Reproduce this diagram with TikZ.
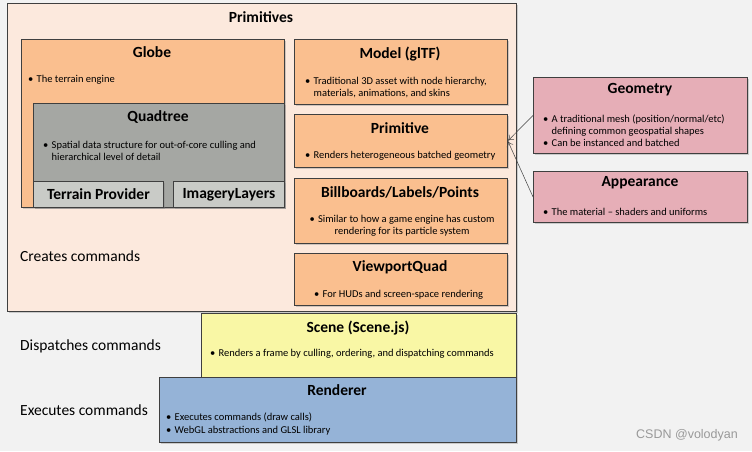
\documentclass[tikz,border=0pt]{standalone}
\usepackage{fontspec}
\setmainfont{Carlito}
\newfontfamily\markfont{Liberation Sans}
\usepackage{tikz}
\usetikzlibrary{shapes,arrows,arrows.meta,positioning,shadows}

\definecolor{bggray}{HTML}{F2F2F2}
\definecolor{primpeach}{HTML}{FCE9DD}
\definecolor{boxorange}{HTML}{FABF8F}
\definecolor{quadgray}{HTML}{A5A7A3}
\definecolor{tilegray}{HTML}{C9CBC7}
\definecolor{boxpink}{HTML}{E6AEB7}
\definecolor{sceneyellow}{HTML}{F9F7A5}
\definecolor{rendblue}{HTML}{95B3D7}
\definecolor{edgegray}{HTML}{3F3F3F}

\newcommand{\bul}{\makebox[8.5pt][l]{\textbullet}}

\tikzset{
  box/.style={draw=edgegray, line width=0.8pt, anchor=north west, inner sep=0pt,
    drop shadow={shadow xshift=1.2pt, shadow yshift=-1.5pt, opacity=0.35}},
  boxtitle/.style={font=\fontsize{15.5}{18}\selectfont\bfseries, inner sep=0pt},
  bullets/.style={font=\fontsize{10.5}{12.3}\selectfont, align=left, anchor=west, inner sep=0pt},
  stage/.style={font=\fontsize{15.5}{18}\selectfont, anchor=west, inner sep=0pt},
  feed/.style={-{To[length=5pt,width=7pt]}, edgegray, line width=0.5pt, shorten >=0.5pt}
}

\begin{document}
\begin{tikzpicture}[x=1pt, y=-1pt]
    % Background
    \fill[bggray] (0,0) rectangle (752,451);
    \useasboundingbox (0,0) rectangle (752,451);

    % Primitives container
    \node[box, fill=primpeach, minimum width=509pt, minimum height=308pt] (prims) at (7,3) {};
    \node[boxtitle] (primstitle) at (261,17) {Primitives};

    % Globe and its quadtree
    \node[box, fill=boxorange, minimum width=263pt, minimum height=168pt] (globe) at (21,39) {};
    \node[boxtitle] (globetitle) at (152,52) {Globe};
    \node[bullets] (globetext) at (28,80) {\bul The terrain engine};

    \node[box, fill=quadgray, minimum width=251pt, minimum height=104pt] (quadtree) at (33,103) {};
    \node[boxtitle] (quadtitle) at (158,117) {Quadtree};
    \node[bullets] (quadtext) at (43,151) {\bul Spatial data structure for out-of-core culling and\\
        \hspace*{8.5pt}hierarchical level of detail};

    \node[box, fill=tilegray, minimum width=130pt, minimum height=26pt] (terrain) at (33,181) {};
    \node[boxtitle] at (terrain.center) {Terrain Provider};
    \node[box, fill=tilegray, minimum width=111pt, minimum height=26pt] (imagery) at (173,181) {};
    \node[boxtitle] at (imagery.center) {ImageryLayers};

    % Right column of primitives
    \node[box, fill=boxorange, minimum width=213pt, minimum height=65pt] (model) at (294,39) {};
    \node[boxtitle] (modeltitle) at (400,54) {Model (glTF)};
    \node[bullets] (modeltext) at (305,87.5) {\bul Traditional 3D asset with node hierarchy,\\
        \hspace*{8.5pt}materials, animations, and skins};

    \node[box, fill=boxorange, minimum width=213pt, minimum height=53pt] (primitive) at (294,114) {};
    \node[boxtitle] (primtitle) at (400,128) {Primitive};
    \node[bullets] (primtext) at (305,156) {\bul Renders heterogeneous batched geometry};

    \node[box, fill=boxorange, minimum width=213pt, minimum height=65pt] (billboards) at (294,178) {};
    \node[boxtitle] (billtitle) at (400,192) {Billboards/Labels/Points};
    \node[bullets, align=center, anchor=center] (billtext) at (402,226) {\bul Similar to how a game engine has custom\\
        rendering for its particle system};

    \node[box, fill=boxorange, minimum width=213pt, minimum height=52pt] (viewport) at (294,253) {};
    \node[boxtitle] (viewtitle) at (400,267) {ViewportQuad};
    \node[bullets] (viewtext) at (314,295) {\bul For HUDs and screen-space rendering};

    % Geometry and appearance
    \node[box, fill=boxpink, minimum width=214pt, minimum height=76pt] (geometry) at (533,77) {};
    \node[boxtitle] (geomtitle) at (640,90) {Geometry};
    \node[bullets] (geomtext) at (543,130.5) {\bul A traditional mesh (position/normal/etc)\\
        \hspace*{8.5pt}defining common geospatial shapes\\
        \bul Can be instanced and batched};

    \node[box, fill=boxpink, minimum width=214pt, minimum height=51pt] (appearance) at (533,171) {};
    \node[boxtitle] (apptitle) at (640,183) {Appearance};
    \node[bullets] (apptext) at (543,212) {\bul The material -- shaders and uniforms};

    \draw[feed] (geometry.west) -- (primitive.east);
    \draw[feed] (appearance.west) -- (primitive.east);

    % Scene and renderer
    \node[box, fill=sceneyellow, minimum width=315pt, minimum height=64pt] (scene) at (201,313) {};
    \node[boxtitle] (scenetitle) at (358,328) {Scene (Scene.js)};
    \node[bullets] (scenetext) at (210,354) {\bul Renders a frame by culling, ordering, and dispatching commands};

    \node[box, fill=rendblue, minimum width=357pt, minimum height=65pt] (renderer) at (159,377) {};
    \node[boxtitle] (rendtitle) at (337,390) {Renderer};
    \node[bullets] (rendtext) at (166,424) {\bul Executes commands (draw calls)\\
        \bul WebGL abstractions and GLSL library};

    % Stage labels
    \node[stage] (creates) at (20,256) {Creates commands};
    \node[stage] (dispatches) at (20,346) {Dispatches commands};
    \node[stage] (executes) at (20,410) {Executes commands};

    \node[anchor=east, inner sep=0pt, text=gray!80, font=\markfont\fontsize{12.5}{14}\selectfont] (mark) at (738,435) {CSDN @volodyan};
\end{tikzpicture}
\end{document}
